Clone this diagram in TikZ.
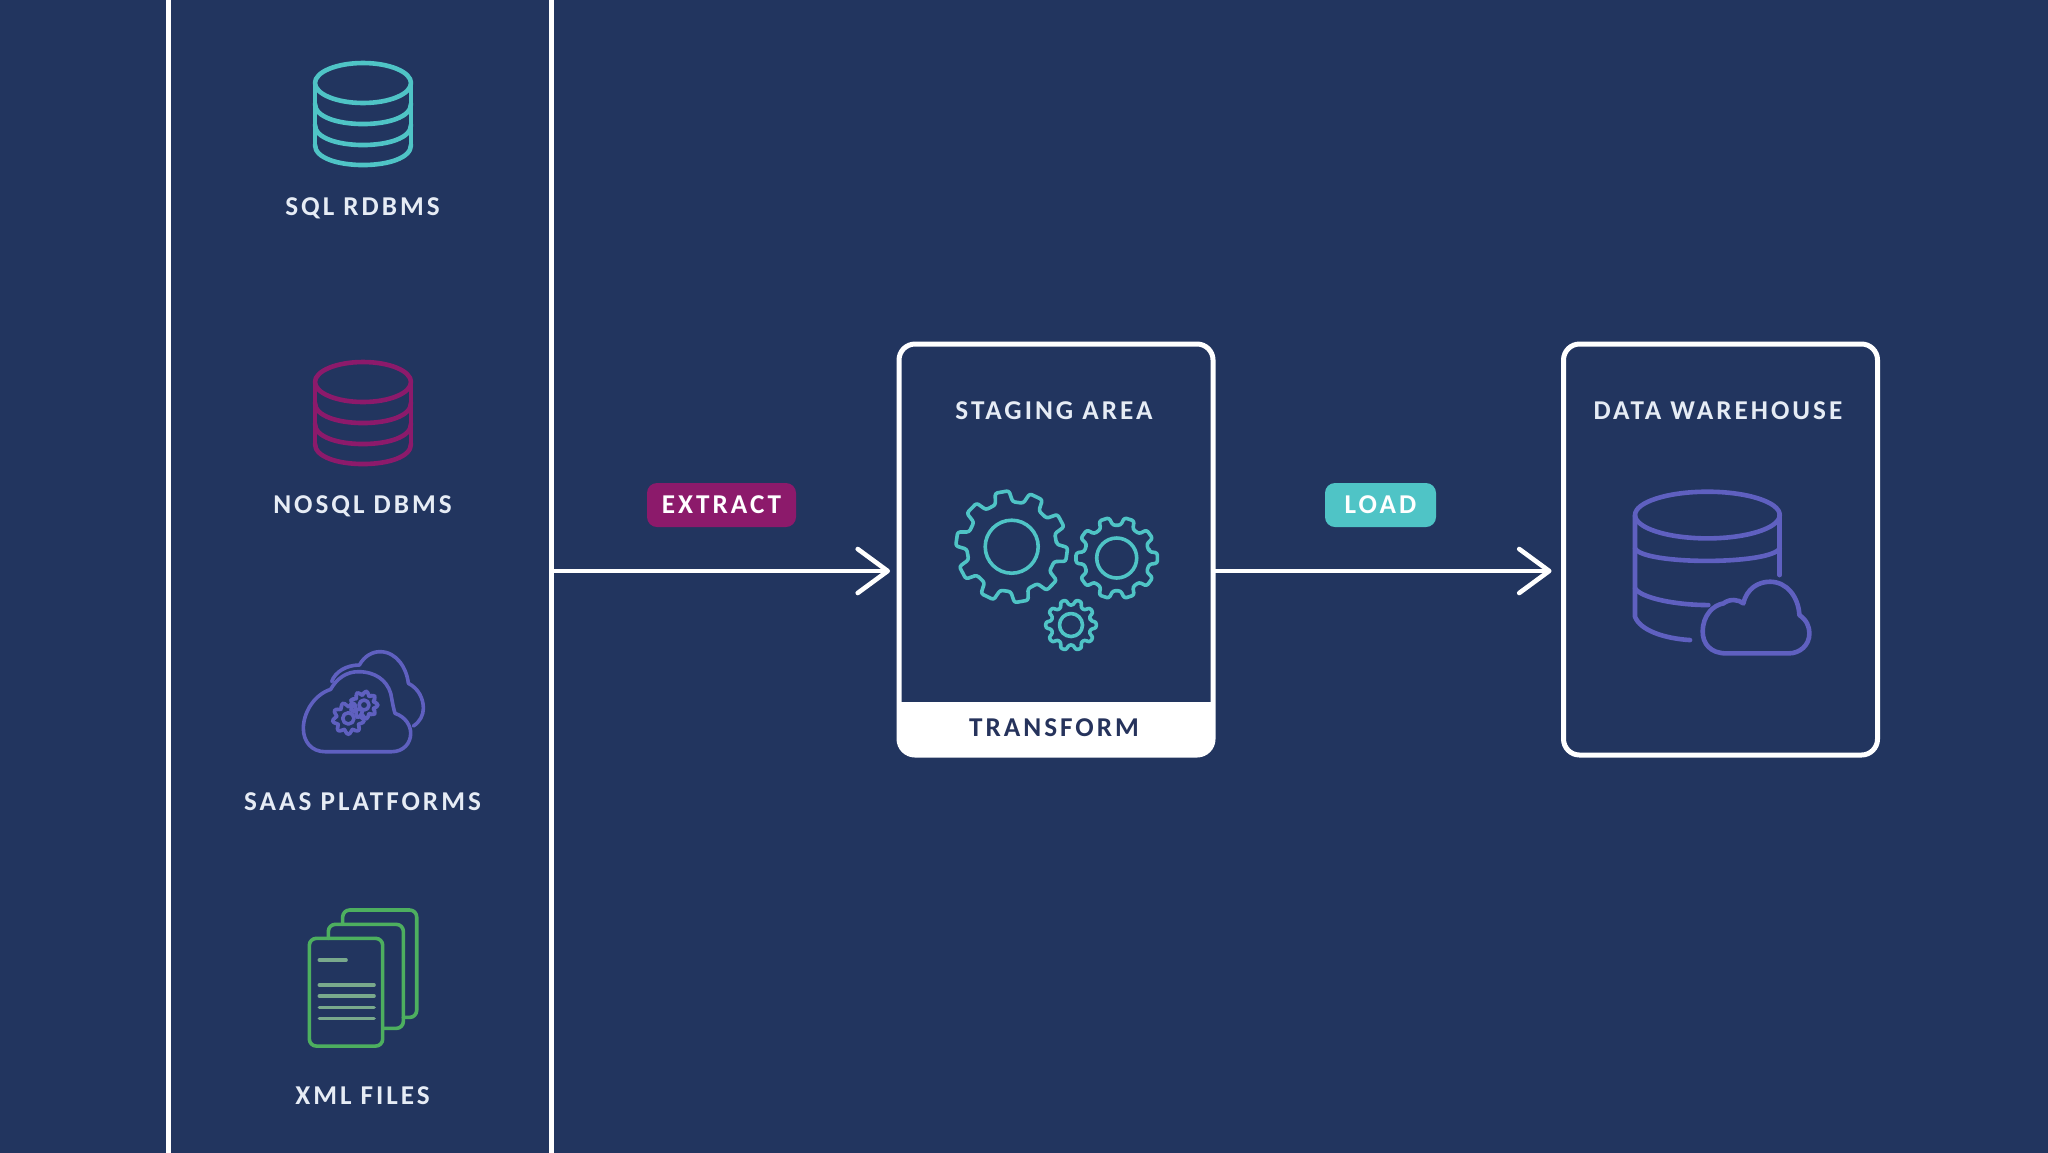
\documentclass[tikz,border=0pt]{standalone}
\usepackage{fontspec}
\setmainfont{Carlito}[LetterSpace=11]
\usetikzlibrary{arrows.meta}
\definecolor{bgnavy}{HTML}{22355F}
\definecolor{teal}{HTML}{4FC4C6}
\definecolor{magent}{HTML}{8C1A6B}
\definecolor{violet}{HTML}{5F60C0}
\definecolor{leaf}{HTML}{4DAF5F}
\definecolor{leafgrey}{HTML}{79A98C}
\definecolor{pale}{HTML}{E6ECF5}
\definecolor{darktxt}{HTML}{26335C}
\tikzset{
  lbl/.style={text=pale,font=\fontsize{13.6}{13.6}\bfseries\selectfont,inner sep=0pt,text height=8.6pt,text depth=0pt},
  panel/.style={draw=white,line width=2.3pt},
  box/.style={draw=white,line width=2.5pt,rounded corners=8pt,minimum width=157pt,minimum height=205.5pt,inner sep=0pt,outer sep=0pt},
  pill/.style={rounded corners=5pt,minimum height=22pt,inner sep=0pt,text=white,font=\fontsize{13.6}{13.6}\bfseries\selectfont,text height=8.6pt,text depth=0pt},
  flow/.style={draw=white,line width=2.3pt,-{Straight Barb[length=15pt,width=22pt,line width=2.3pt,round]}},
  icon/.style={line width=2.3pt,line cap=round,line join=round},
  thin icon/.style={line width=1.8pt,line cap=round,line join=round}
}
\newcommand\halfarc[3]{({#1-#2},{#3}) .. controls ({#1-#2},{#3+26.7}) and ({#1+#2},{#3+26.7}) .. ({#1+#2},{#3})}
\newcommand\dbicon[3]{%
  \begin{scope}[icon,draw=#3]
    \draw (#1,#2) ellipse [x radius=48,y radius=20];
    \draw \halfarc{#1}{48}{#2+21} \halfarc{#1}{48}{#2+42} \halfarc{#1}{48}{#2+62};
    \draw ({#1-48},#2) -- ({#1-48},{#2+62}) ({#1+48},#2) -- ({#1+48},{#2+62});
  \end{scope}}
% cx cy Router Rroot Rhole teeth rot
\newcommand\gearicon[7]{%
  \begin{scope}[shift={(#1,#2)}]
    \pgfmathsetmacro\gstep{360/#6}
    \pgfmathtruncatemacro\glast{#6-1}
    \draw[rounded corners=1.2pt] ({#7-0.31*\gstep}:#4)
      \foreach \k in {0,...,\glast}{
        -- ({#7+\k*\gstep-0.31*\gstep}:#4)
        -- ({#7+\k*\gstep-0.2*\gstep}:#3)
        -- ({#7+\k*\gstep+0.2*\gstep}:#3)
        -- ({#7+\k*\gstep+0.31*\gstep}:#4)
      } -- cycle;
    \draw (0,0) circle [radius=#5];
  \end{scope}}
\begin{document}
\begin{tikzpicture}[x=0.5pt,y=-0.5pt]
\useasboundingbox (0,0) rectangle (2048,1152);
\fill[bgnavy] (-6,-6) rectangle (2054,1158);
% source panel
\coordinate (ptl) at (168.5,-6);
\coordinate (pbl) at (168.5,1158);
\coordinate (ptr) at (551.5,-6);
\coordinate (pbr) at (551.5,1158);
\draw[panel] (ptl) -- (pbl);
\draw[panel] (ptr) -- (pbr);
% SQL
\dbicon{363}{83}{teal}
\node[lbl] (sql) at (362.5,206.5) {SQL RDBMS};
% NoSQL
\dbicon{363}{382}{magent}
\node[lbl] (nosql) at (362.5,504.5) {NOSQL DBMS};
% SaaS
\begin{scope}[shift={(260,630)},x=0.1667pt,y=-0.1667pt,violet,thin icon]
  \draw (195,365) .. controls (155,365) and (130,335) .. (130,295)
    .. controls (130,250) and (160,195) .. (212,178)
    .. controls (230,145) and (260,125) .. (295,125)
    .. controls (345,125) and (380,150) .. (392,190)
    .. controls (397,215) and (400,235) .. (405,250)
    .. controls (435,260) and (452,285) .. (452,310)
    .. controls (452,340) and (430,365) .. (395,365) -- cycle;
  \draw (215,155) .. controls (225,125) and (260,105) .. (298,105)
    .. controls (315,75) and (340,65) .. (360,65)
    .. controls (410,65) and (440,115) .. (445,160)
    .. controls (475,175) and (490,205) .. (490,235)
    .. controls (490,255) and (480,275) .. (460,288);
  \gearicon{265}{265}{48}{36}{17}{9}{10}
  \gearicon{312}{225}{42}{31}{15}{9}{0}
\end{scope}
\node[lbl] (saas) at (362.5,802) {SAAS PLATFORMS};
% XML
\begin{scope}[shift={(280,890)},x=0.1667pt,y=-0.1667pt,leaf,thin icon]
  \draw[rounded corners=3.5pt] (88,145) rectangle (308,468);
  \draw[rounded corners=3.5pt] (145,145) -- (145,103) -- (370,103) -- (370,415) -- (310,415);
  \draw[rounded corners=3.5pt] (188,103) -- (188,60) -- (410,60) -- (410,382) -- (370,382);
  \draw[leafgrey] (118,210) -- (198,210);
  \draw[leafgrey] (118,285) -- (282,285) (118,318) -- (282,318) (118,352) -- (282,352) (118,385) -- (282,385);
\end{scope}
\node[lbl] (xml) at (362.5,1096) {XML FILES};
% Staging area
\node[box] (staging) at (1056,549.5) {};
\fill[white] (899,702) -- (1213,702) [rounded corners=8pt] -- (1213,755) -- (899,755) [sharp corners] -- cycle;
\node[lbl] (stagelbl) at (1054,411) {STAGING AREA};
\node[lbl,text=darktxt] (transform) at (1054,728) {TRANSFORM};
\begin{scope}[teal,thin icon]
  \gearicon{1011.7}{546.7}{56}{45}{26.5}{10}{8}
  \gearicon{1116.7}{558}{41}{33}{20}{10}{0}
  \gearicon{1071}{625}{25.5}{20}{11.5}{10}{0}
\end{scope}
% Warehouse
\node[box] (dw) at (1720.5,549.5) {};
\node[lbl] (dwlbl) at (1718,411) {DATA WAREHOUSE};
\begin{scope}[shift={(1550,330)},x=0.1667pt,y=-0.1667pt,violet,icon]
  \draw (472,555) ellipse [x radius=217,y radius=70];
  \draw (255,655) .. controls (280,705) and (660,705) .. (689,655);
  \draw (255,555) -- (255,860) .. controls (270,900) and (340,925) .. (420,930);
  \draw (255,775) .. controls (275,805) and (380,825) .. (475,825);
  \draw (689,555) -- (689,735);
  \draw (530,970) .. controls (480,970) and (458,940) .. (458,905)
    .. controls (458,855) and (490,825) .. (520,820)
    .. controls (540,805) and (565,808) .. (580,820)
    .. controls (590,775) and (625,755) .. (660,755)
    .. controls (710,755) and (745,800) .. (748,855)
    .. controls (770,870) and (778,890) .. (778,910)
    .. controls (778,945) and (750,970) .. (715,970) -- cycle;
\end{scope}
% Connectors
\coordinate (srcout) at (551,571);
\coordinate (stageout) at (1213,571);
\draw[flow,shorten >=4.5pt] (srcout) -- (staging.west |- srcout);
\draw[flow,shorten >=6pt] (staging.east |- stageout) -- (dw.west |- stageout);
\node[pill,fill=magent,minimum width=74.5pt] (extract) at (721.5,505) {EXTRACT};
\node[pill,fill=teal,minimum width=55.5pt] (load) at (1380.5,505) {LOAD};
\end{tikzpicture}
\end{document}
